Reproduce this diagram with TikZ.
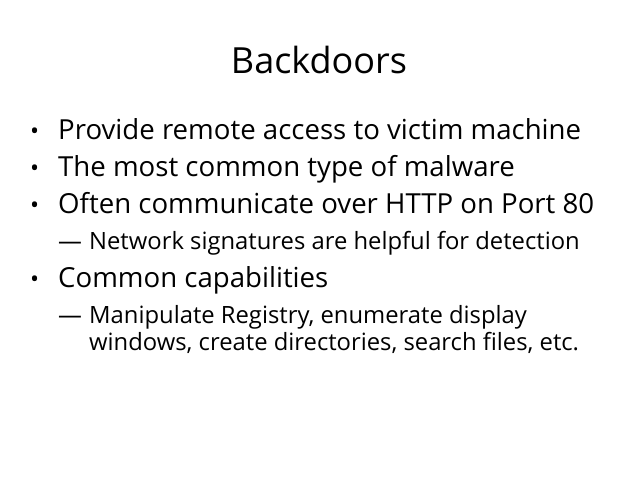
\documentclass[tikz,border=0pt]{standalone}
\usepackage{fontspec}
\setmainfont{Open Sans}
\begin{document}
\begin{tikzpicture}[x=1pt,y=-1pt,
  main/.style={anchor=base west,inner sep=0,font=\fontsize{27.6}{30}\selectfont},
  sub/.style={anchor=base west,inner sep=0,font=\fontsize{23.8}{25}\selectfont},
  bul/.style={anchor=base west,inner sep=0,font=\fontsize{24}{30}\selectfont}]
\useasboundingbox (0,0) rectangle (638,478);
\node[anchor=base,inner sep=0,font=\fontsize{36}{40}\selectfont] (t) at (319,74) {Backdoors};
\node[bul] (b1) at (30,140) {•};
\node[main] (l1) at (58,140) {Provide remote access to victim machine};
\node[bul] (b2) at (30,177) {•};
\node[main] (l2) at (58,177) {The most common type of malware};
\node[bul] (b3) at (30,214) {•};
\node[main] (l3) at (58,214) {Often communicate over HTTP on Port 80};
\node[sub] (d1) at (58,250) {—};
\node[sub] (s1) at (89,250) {Network signatures are helpful for detection};
\node[bul] (b4) at (30,288) {•};
\node[main] (l4) at (58,288) {Common capabilities};
\node[sub] (d2) at (58,324) {—};
\node[sub] (s2) at (89,324) {Manipulate Registry, enumerate display};
\node[sub] (s3) at (89,351) {windows, create directories, search files, etc.};
\end{tikzpicture}
\end{document}
